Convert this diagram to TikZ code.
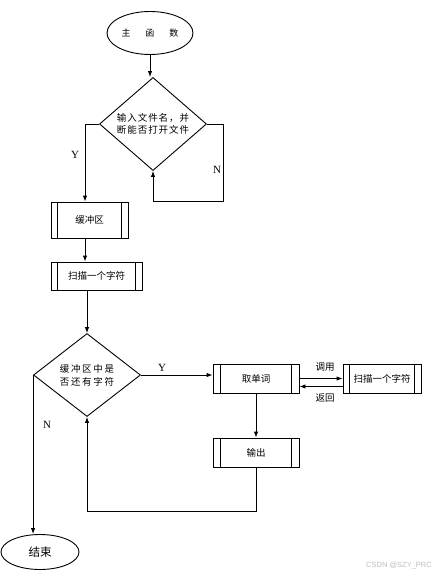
\documentclass[tikz,border=0pt]{standalone}
\usepackage{fontspec}
\setmainfont{Liberation Serif}
\newfontfamily\cjk{Noto Sans CJK SC}
\newfontfamily\cjkw[LetterSpace=18]{Noto Sans CJK SC}
\newfontfamily\cjkm[LetterSpace=10]{Noto Sans CJK SC}
\newfontfamily\wmfont{Liberation Sans}
\usetikzlibrary{shapes.geometric,arrows.meta,calc}
\begin{document}
\begin{tikzpicture}[x=1pt,y=-1pt,
  ln/.style={line width=0.9pt, draw=black},
  arr/.style={ln, -{Latex[length=6pt,width=4.5pt]}},
  term/.style={ellipse, draw, line width=0.9pt, inner sep=0pt},
  dec/.style={diamond, draw, line width=0.9pt, inner sep=0pt, align=center},
  proc/.style={rectangle, draw, line width=0.9pt, inner sep=0pt,
    font=\cjk\fontsize{9.5}{11}\selectfont,
    path picture={\draw[line width=0.9pt]
      ([xshift=#1]path picture bounding box.north west) -- ([xshift=#1]path picture bounding box.south west)
      ([xshift=-#1]path picture bounding box.north east) -- ([xshift=-#1]path picture bounding box.south east);}},
  proc/.default=6.5pt,
  lab/.style={font=\fontsize{11}{12}\selectfont, inner sep=0pt},
  clab/.style={font=\cjk\fontsize{9.5}{11}\selectfont, inner sep=0pt}
]
\useasboundingbox (0,0) rectangle (440,580);
\fill[white] (0,0) rectangle (440,580);

% nodes
\node[term, minimum width=86, minimum height=43, font=\cjk\fontsize{9}{11}\selectfont] (start) at (150,33) {主\hspace{15pt}函\hspace{15pt}数};
\node[dec, minimum width=107, minimum height=64, font=\cjkm\fontsize{9.5}{12}\selectfont] (d1) at (153,124) {输入文件名，并\\断能否打开文件};
\node[proc, minimum width=77, minimum height=36] (b1) at (89.5,220) {缓冲区};
\node[proc, minimum width=91, minimum height=28] (b2) at (96.5,276) {扫描一个字符};
\node[dec, minimum width=107, minimum height=83, font=\cjkw\fontsize{9.5}{13}\selectfont] (d2) at (87,375) {缓冲区中是\\否还有字符};
\node[proc=7.5pt, minimum width=86, minimum height=29] (b3) at (256,378.5) {取单词};
\node[proc, minimum width=78, minimum height=29] (b4) at (382,378.5) {扫描一个字符};
\node[proc=7.5pt, minimum width=86, minimum height=29] (b5) at (256,452.5) {输出};
\node[term, minimum width=78, minimum height=35, font=\cjk\fontsize{11.5}{13}\selectfont] (stop) at (40,552) {结束};

% labels
\node[lab] (y1) at (75,155) {Y};
\node[lab] (n1) at (217,170) {N};
\node[lab] (y2) at (162,368) {Y};
\node[lab] (n2) at (47,425) {N};
\node[clab] (call) at (325,367) {调用};
\node[clab] (ret) at (325,398) {返回};
\node[font=\wmfont\fontsize{7.5}{8}\selectfont, text=black!25, inner sep=0pt] (wm) at (399,566) {CSDN @SZY\_PRC};

% connectors
\draw[arr] (start.south) -- (start.south |- d1.north);
\draw[arr] (d1.west) -| ([xshift=-4.5pt]b1.north);
\draw[arr] (d1.east) -- ++(16,0) -- ++(0,77) -| (d1.south);
\draw[arr] ([xshift=-4.5pt]b1.south) -- ([xshift=-4.5pt]b1.south |- b2.north);
\draw[arr] (b2.south -| d2.north) -- (d2.north);
\draw[arr] (d2.east) -- (d2.east -| b3.west);
\draw[arr] (b3.east) -- (b4.west);
\draw[arr] ([yshift=-8pt]b4.west) -- ([yshift=-8pt]b3.east);
\draw[arr] (b3.south) -- (b5.north);
\draw[arr] (b5.south) -- ++(0,44) -| (d2.south);
\draw[arr] (d2.west) -- (d2.west |- stop.north);
\end{tikzpicture}
\end{document}
